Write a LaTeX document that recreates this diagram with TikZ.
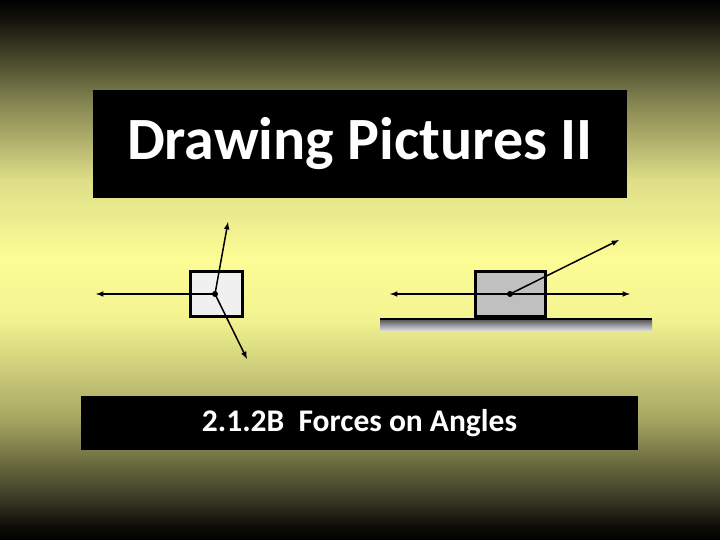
\documentclass[tikz,border=0pt]{standalone}
\usepackage{fontspec}
\setmainfont{Carlito}
\usetikzlibrary{arrows}

\definecolor{bg0}{RGB}{0,0,0}
\definecolor{bg1}{RGB}{22,22,14}
\definecolor{bg2}{RGB}{130,130,80}
\definecolor{bg3}{RGB}{222,222,136}
\definecolor{bg4}{RGB}{253,253,150}
\definecolor{bg5}{RGB}{242,242,144}
\definecolor{bg6}{RGB}{165,165,98}
\definecolor{bg7}{RGB}{55,55,35}
\definecolor{bg8}{RGB}{14,14,9}
\definecolor{lightbox}{RGB}{240,240,240}
\definecolor{darkbox}{RGB}{192,192,192}
\definecolor{groundtop}{RGB}{95,95,95}
\definecolor{groundbot}{RGB}{214,214,218}

\begin{document}
\begin{tikzpicture}[x=1pt,y=-1pt,
  banner/.style={fill=black,text=white,inner sep=0pt},
  block/.style={draw=black,line width=2.6pt,inner sep=0pt,minimum height=45pt},
  force/.style={-latex,line width=1.5pt},
  ]
  \useasboundingbox (0,0) rectangle (720,540);

  % background, black at top and bottom
  \foreach \ya/\yb/\ca/\cb in {0/22/bg0/bg1, 22/100/bg1/bg2, 100/180/bg2/bg3,
    180/260/bg3/bg4, 260/320/bg4/bg5, 320/420/bg5/bg6, 420/500/bg6/bg7,
    500/525/bg7/bg8, 525/540/bg8/bg0} {%
    \shade[top color=\ca,bottom color=\cb] (0,\ya) rectangle (720,\yb + 0.6);
  }

  \node[banner,minimum width=534pt,minimum height=108pt,
    font=\fontsize{60}{62}\selectfont\bfseries] (title) at (360,144)
    {\raisebox{-5pt}{Drawing Pictures II}};
  \node[banner,minimum width=557pt,minimum height=54pt,
    font=\fontsize{31.5}{33}\selectfont\bfseries] (subtitle) at (359.5,423)
    {2.1.2B~~Forces on Angles};

  % left: block in the air
  \node[block,fill=lightbox,minimum width=52pt] (lbox) at (216.5,294) {};
  \coordinate (lc) at (215,294);
  \coordinate (lleft) at (96,294);
  \coordinate (lup) at (228,222);
  \coordinate (ldown) at (247,359);
  \draw[force] (lc) -- (lleft);
  \draw[force] (lc) -- (lup);
  \draw[force] (lc) -- (ldown);
  \fill (lc) circle (3pt);

  % right: block on the ground
  \fill[black] (380,318) rectangle (652,320.5);
  \shade[top color=groundtop,bottom color=groundbot] (380,320.3) rectangle (652,330);
  \node[block,fill=darkbox,minimum width=70pt] (rbox) at (510.5,294) {};
  \coordinate (rc) at (510,294);
  \coordinate (rleft) at (390,294);
  \coordinate (rright) at (630,294);
  \coordinate (rpull) at (619,240);
  \draw[force] (rc) -- (rleft);
  \draw[force] (rc) -- (rright);
  \draw[force] (rc) -- (rpull);
  \fill (rc) circle (3pt);
\end{tikzpicture}
\end{document}
